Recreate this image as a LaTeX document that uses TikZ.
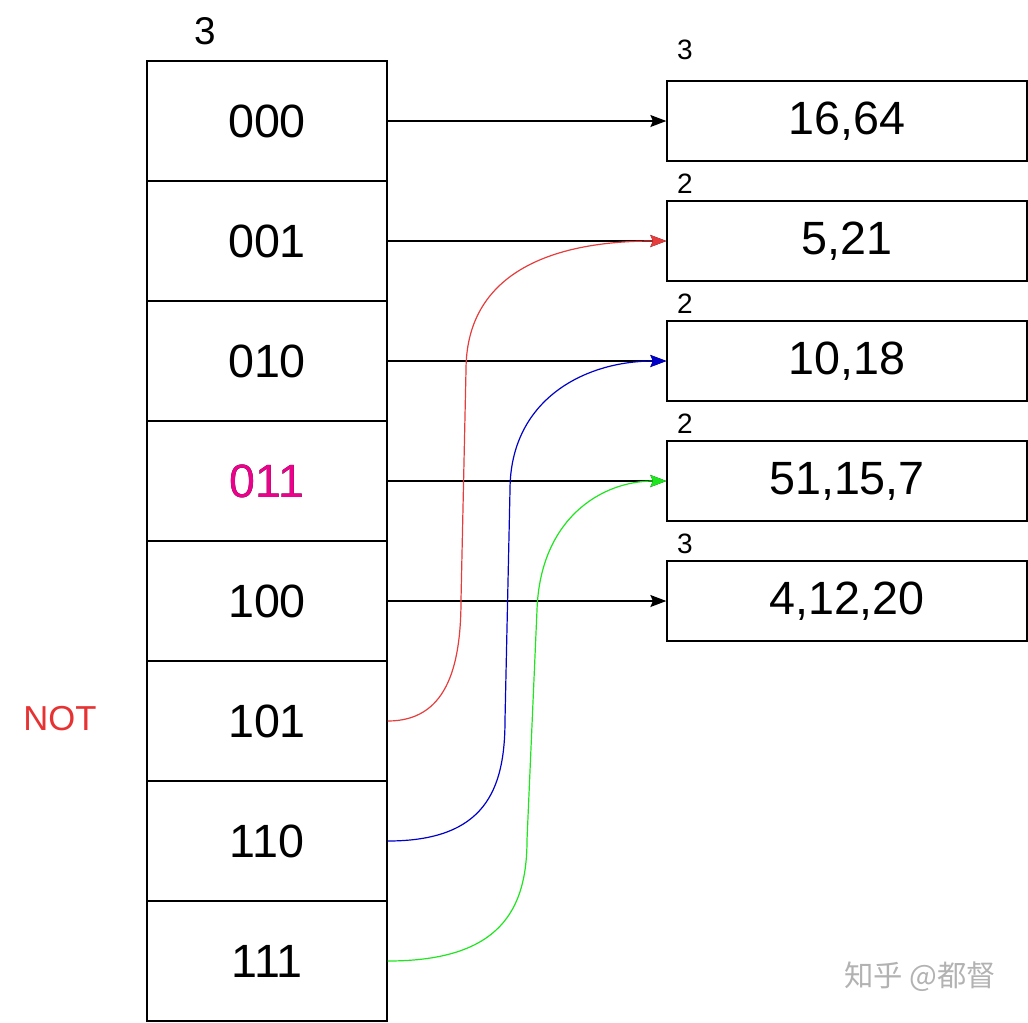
\documentclass[tikz,border=0pt]{standalone}
\usepackage{fontspec}
\usetikzlibrary{arrows.meta}
\setmainfont{Liberation Sans}
\newfontfamily\cjk{Noto Sans CJK SC}
\begin{document}
\begin{tikzpicture}[x=0.75pt,y=-0.75pt,
  cell/.style={draw,line width=1pt,minimum width=180pt,minimum height=90pt,inner sep=0pt,font=\fontsize{35}{35}\selectfont},
  bkt/.style={draw,line width=1pt,minimum width=270pt,minimum height=60pt,inner sep=0pt,font=\fontsize{35}{35}\selectfont},
  lab/.style={font=\fontsize{21}{21}\selectfont},
  arr/.style={-{Stealth[length=12pt,width=9pt,inset=2pt]},line width=0.9pt}]
\useasboundingbox (0,0) rectangle (1028,1022);
\foreach \t [count=\i from 0] in {000,001,010,011,100,101,110,111}
  \node[cell] (c\i) at (267,121+120*\i) {\t};
\node[cell,text=magenta] at (267,481) {011};
\node[font=\fontsize{29}{29}\selectfont] (top) at (205,31) {3};
\foreach \t/\l/\dy [count=\i from 0] in {{16,64}/3/64,{5,21}/2/78,{10,18}/2/78,{51,15,7}/2/78,{4,12,20}/3/78}{
  \node[bkt] (b\i) at (847,121+120*\i) {\t};
  \node[lab,anchor=south] (l\i) at (685,\dy+120*\i) {\l};
  \draw[arr] (c\i.east) -- (b\i.west);
}
\node[text={rgb,255:red,230;green,50;blue,50},font=\fontsize{26}{26}\selectfont] (nt) at (60,719) {NOT};
\draw[arr,color={rgb,255:red,230;green,60;blue,60}] (c5.east) .. controls (445,721) and (461,670) .. (461,600) -- (466,370) .. controls (466,280) and (540,241) .. (b1.west);
\draw[arr,color={rgb,255:red,0;green,0;blue,200}] (c6.east) .. controls (485,841) and (505,790) .. (505,720) -- (510,490) .. controls (510,400) and (584,361) .. (b2.west);
\draw[arr,color={rgb,255:red,30;green,230;blue,30}] (c7.east) .. controls (500,961) and (527,910) .. (527,840) -- (537,610) .. controls (540,520) and (600,481) .. (b3.west);
\node[text=gray!60,font=\cjk\fontsize{22}{22}\selectfont] (wm) at (920,977) {知乎 @都督};
\end{tikzpicture}
\end{document}
